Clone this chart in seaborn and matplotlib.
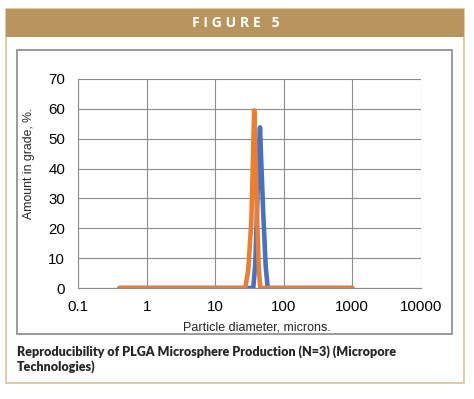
import matplotlib
matplotlib.use("Agg")
import matplotlib.pyplot as plt
import numpy as np
import pandas as pd
import seaborn as sns
from matplotlib.patches import Rectangle

# particle size (microns) and amount in grade (%)
run_a_size = [0.4, 1, 10, 25, 30, 35.9, 38.4, 41.0, 43.1, 45.0, 47.0, 50.2, 54.6, 58.4, 70, 200, 1000]
run_a_amount = [0, 0, 0, 0, 0, 0, 8, 28, 45, 53.8, 42, 25, 7, 0, 0, 0, 0]

run_b_size = [0.4, 1, 10, 20, 27.4, 30.3, 33.6, 35.3, 37.0, 39.0, 41.0, 43.1, 45.4, 60, 200, 1000]
run_b_amount = [0, 0, 0, 0, 0, 6, 22, 40, 59.5, 42, 22, 7, 0, 0, 0, 0]

x_ticks = [0.1, 1, 10, 100, 1000, 10000]
x_tick_labels = ["0.1", "1", "10", "100", "1000", "10000"]
y_ticks = [0, 10, 20, 30, 40, 50, 60, 70]

BLUE = "#4472C4"
ORANGE = "#ED7D31"
GRID = "#8c8c8c"

sns.set_theme(style="white")
plt.rcParams["font.family"] = ["Liberation Sans", "DejaVu Sans"]

fig = plt.figure(figsize=(4.74, 3.99), dpi=100)
W, H = 474, 399

def fx(px):
    return px / W

def fy(py):
    return 1 - py / H

# outer framed panel with header band
fig.patches.append(Rectangle((fx(6), fy(383)), fx(464) - fx(6), fy(9) - fy(383),
                             transform=fig.transFigure, facecolor="white",
                             edgecolor="#d8c49c", lw=1.2, zorder=0))
fig.patches.append(Rectangle((fx(6), fy(37)), fx(464) - fx(6), fy(9) - fy(37),
                             transform=fig.transFigure, facecolor="#b8955f",
                             edgecolor="none", zorder=1))
fig.text(fx(235.5), fy(23), "F I G U R E   5", color="white", fontsize=10.2,
         fontweight="bold", family=["Open Sans", "DejaVu Sans"],
         ha="center", va="center")
# inner chart frame
fig.patches.append(Rectangle((fx(17), fy(334)), fx(452) - fx(17), fy(50) - fy(334),
                             transform=fig.transFigure, facecolor="white",
                             edgecolor="#8a8a8a", lw=1.2, zorder=1))

ax = fig.add_axes([fx(78.3), fy(288), fx(420.7) - fx(78.3), fy(79) - fy(288)])
ax.set_zorder(2)

df_a = pd.DataFrame({"size": run_a_size, "amount": run_a_amount})
df_b = pd.DataFrame({"size": run_b_size, "amount": run_b_amount})

sns.lineplot(data=df_a, x="size", y="amount", ax=ax, color=BLUE, lw=3.3,
             sort=False, solid_capstyle="round", solid_joinstyle="round")
sns.lineplot(data=df_b, x="size", y="amount", ax=ax, color=ORANGE, lw=3.3,
             sort=False, solid_capstyle="round", solid_joinstyle="round")

ax.set_xscale("log")
ax.set_xlim(0.1, 10000)
ax.set_ylim(0, 70)
ax.set_xticks(x_ticks)
ax.set_xticklabels(x_tick_labels)
ax.minorticks_off()
ax.set_yticks(y_ticks)
ax.tick_params(axis="both", labelsize=10.8, labelcolor="black", color=GRID,
               length=3.5, width=0.8, direction="out")
ax.tick_params(axis="x", pad=5)
ax.tick_params(axis="y", pad=6)
ax.grid(True, color=GRID, lw=0.8)
ax.set_axisbelow(True)
for side in ["top", "right"]:
    ax.spines[side].set_visible(False)
for side in ["left", "bottom"]:
    ax.spines[side].set_color(GRID)
    ax.spines[side].set_linewidth(0.8)
ax.set_xlabel("")
ax.set_ylabel("")

fig.text(fx(257), fy(327), "Particle diameter, microns.", fontsize=9,
         ha="center", va="center")
fig.text(fx(29), fy(163), "Amount in grade, %.", fontsize=8.8, rotation=90,
         ha="center", va="center")

fig.text(fx(17), fy(359), "Reproducibility of PLGA Microsphere Production (N=3) (Micropore\nTechnologies)",
         fontsize=9, fontweight="heavy", family=["Lato", "DejaVu Sans"],
         ha="left", va="center", linespacing=1.25)

fig.savefig("out.png", dpi=100)
